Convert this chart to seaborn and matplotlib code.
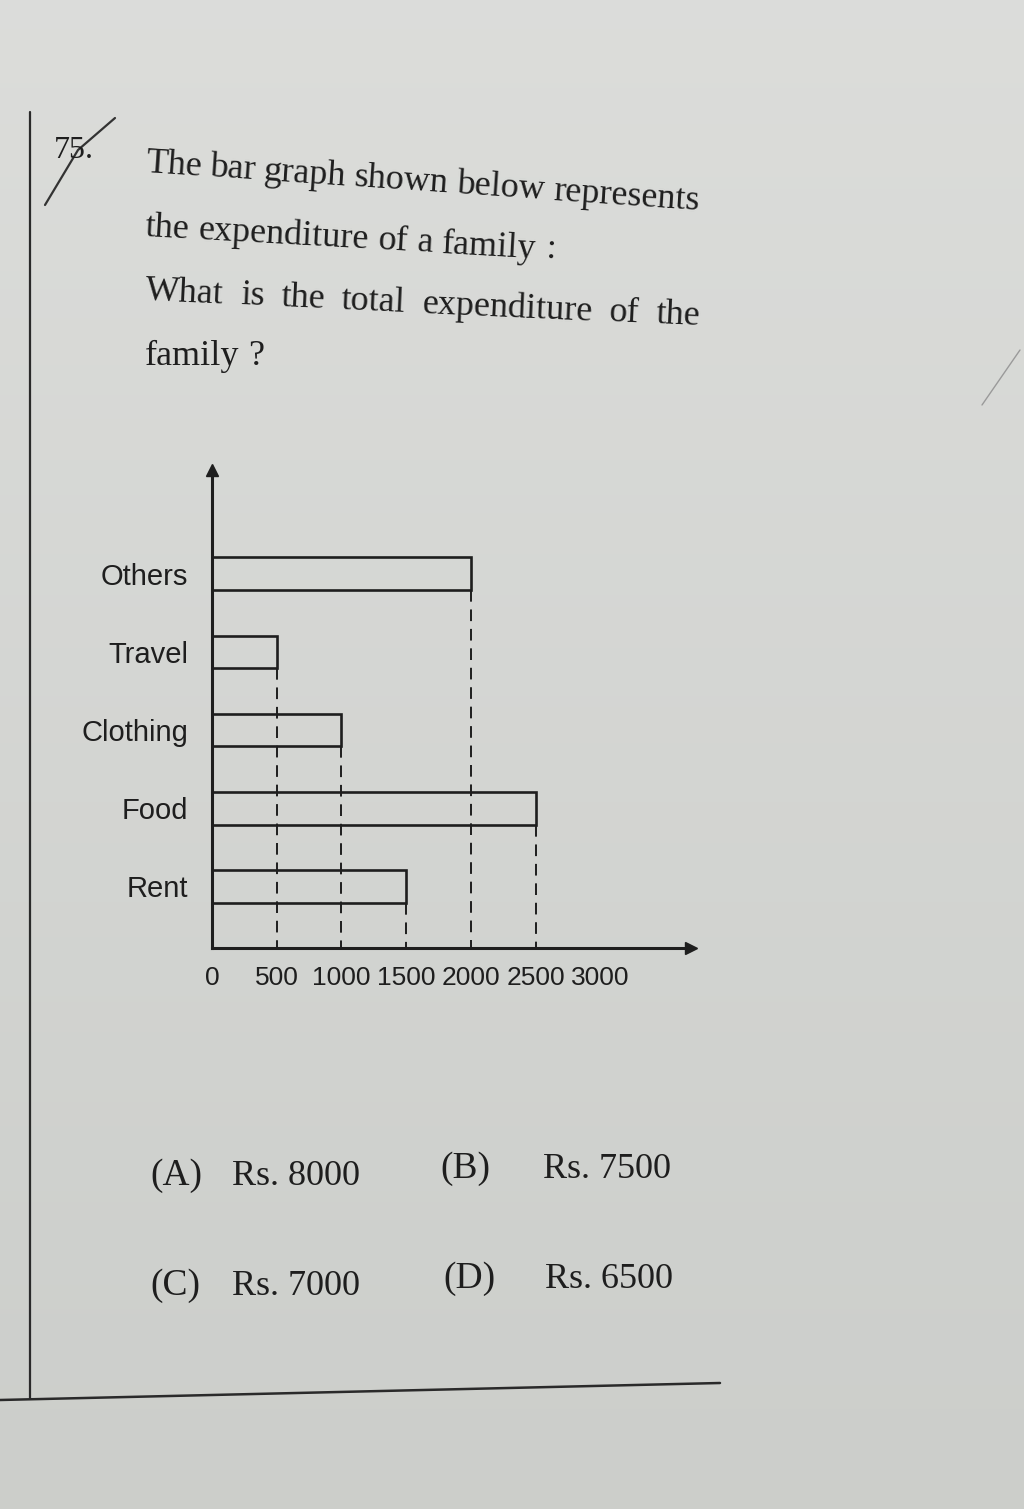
import matplotlib
matplotlib.use('Agg')
import numpy as np
import pandas as pd
import matplotlib.pyplot as plt
import seaborn as sns
from matplotlib import font_manager
from matplotlib.lines import Line2D

# data
categories = ['Others', 'Travel', 'Clothing', 'Food', 'Rent']
expenditure = [2000, 500, 1000, 2500, 1500]
x_ticks = [0, 500, 1000, 1500, 2000, 2500, 3000]

question_no = '75.'
question_lines = ['The bar graph shown below represents',
                  'the expenditure of a family :',
                  'What is the total expenditure of the',
                  'family ?']
option_letters = ['(A)', '(B)', '(C)', '(D)']
option_values = ['Rs. 8000', 'Rs. 7500', 'Rs. 7000', 'Rs. 6500']

W, H = 1024, 1509
ink = '#1e1e1e'


def fx(x):
    return x / W


def fy(y):
    return 1 - y / H


sns.set_theme(style='white')
plt.rcParams['font.family'] = ['Liberation Serif', 'DejaVu Serif']

names = {f.name for f in font_manager.fontManager.ttflist}
narrow = 'Liberation Sans Narrow' if 'Liberation Sans Narrow' in names else 'Liberation Sans'

fig = plt.figure(figsize=(W / 100, H / 100), dpi=100)
renderer = fig.canvas.get_renderer()

# paper background (photo is a bit lighter at the top)
bg = fig.add_axes([0, 0, 1, 1], zorder=-10)
grad = np.linspace(0, 1, 256).reshape(-1, 1)
top = np.array([0.862, 0.866, 0.856])
bot = np.array([0.800, 0.808, 0.795])
img = top + (bot - top) * grad[..., None]
bg.imshow(img, aspect='auto', extent=[0, 1, 0, 1])
bg.axis('off')


def text_width(s, size):
    t = fig.text(0, 0, s, fontsize=size)
    w = t.get_window_extent(renderer).width
    t.remove()
    return w


def justified(line, x, y, rot, size, width=None):
    # place words one by one so the line fills the given width
    words = line.split(' ')
    widths = [text_width(w, size) for w in words]
    if width is None or len(words) < 2:
        gap = text_width(' ', size)
    else:
        gap = (width - sum(widths)) / (len(words) - 1)
    a = np.deg2rad(rot)
    pos = 0.0
    for w, ww in zip(words, widths):
        px, py = x + pos * np.cos(a), y - pos * np.sin(a)
        fig.text(fx(px), fy(py), w, fontsize=size, color=ink, rotation=rot,
                 rotation_mode='anchor', ha='left', va='baseline')
        pos += ww + gap


# question text
fig.text(fx(54), fy(158), question_no, fontsize=23, color=ink)
fig.add_artist(Line2D([fx(45), fx(78), fx(115)], [fy(205), fy(150), fy(118)],
                      color='#333333', lw=1.6))
q_pos = [(145, 172, -3.9, 555), (145, 236, -3.2, None),
         (145, 300, -2.6, 555), (145, 365, 0, None)]
for line, (x, y, rot, wd) in zip(question_lines, q_pos):
    justified(line, x, y, rot, 26, wd)

# chart
ax = fig.add_axes([fx(212), fy(948), 479 / W, 478 / H])
ax.set_facecolor('none')
df = pd.DataFrame({'category': categories, 'amount': expenditure})
bar_h = 0.42
sns.barplot(data=df, x='amount', y='category', order=categories, orient='h',
            fill=False, color=ink, linewidth=1.9, width=bar_h, ax=ax)
ax.set_xlim(0, 3700)
ax.set_ylim(4.79, -1.33)

for i, v in enumerate(expenditure):
    ax.vlines(v, i + bar_h / 2, 4.79, colors=ink, linewidth=1.4,
              linestyles=(0, (6, 4)), clip_on=False)

ax.set_xticks(x_ticks)
ax.set_xticklabels([str(t) for t in x_ticks], fontfamily=narrow, fontsize=19, color=ink)
for lab in ax.get_yticklabels():
    lab.set_fontfamily('Liberation Sans')
    lab.set_fontsize(21)
    lab.set_color(ink)
ax.tick_params(axis='x', length=0, pad=13)
ax.tick_params(axis='y', length=0, pad=17)
ax.set_xlabel('')
ax.set_ylabel('')
sns.despine(ax=ax)
for s in ['left', 'bottom']:
    ax.spines[s].set_linewidth(2.2)
    ax.spines[s].set_color(ink)
ax.plot(0, 1, marker='^', ms=9, color=ink, transform=ax.transAxes, clip_on=False)
ax.plot(1, 0, marker='>', ms=9, color=ink, transform=ax.transAxes, clip_on=False)

# answer options
opt_pos = [(150, 1185, 232), (440, 1178, 543), (150, 1295, 232), (443, 1288, 545)]
for letter, val, (xl, y, xv) in zip(option_letters, option_values, opt_pos):
    fig.text(fx(xl), fy(y), letter, fontsize=27, color=ink, va='baseline')
    fig.text(fx(xv), fy(y), val, fontsize=26, color=ink, va='baseline')

# page rules
fig.add_artist(Line2D([fx(30), fx(30)], [fy(112), fy(1398)], color='#2a2a2a', lw=1.6))
fig.add_artist(Line2D([fx(0), fx(720)], [fy(1400), fy(1383)], color='#2a2a2a', lw=1.8))
fig.add_artist(Line2D([fx(982), fx(1020)], [fy(405), fy(350)], color='#9a9a9a', lw=1.0))

fig.savefig('out.png', dpi=100)
